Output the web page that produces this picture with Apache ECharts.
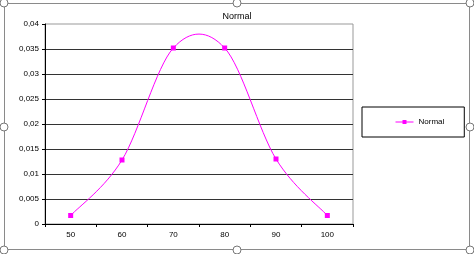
<!DOCTYPE html>
<html>
<head>
<meta charset="utf-8">
<script src="https://cdn.jsdelivr.net/npm/echarts@6/dist/echarts.min.js"></script>
<style>
  html, body { margin: 0; padding: 0; background: #fff; }
  #chart1 { width: 474px; height: 254px; }
</style>
</head>
<body>
<div id="chart1"></div>
<script>
var categories = ['50', '60', '70', '80', '90', '100'];
var normalValues = [0.0017, 0.0128, 0.0352, 0.0352, 0.013, 0.0017];

var dom = document.getElementById('chart1');
var myChart = echarts.init(dom, null, { renderer: 'canvas' });

var font = '"Liberation Sans", Arial, sans-serif';

// excel selection handles round the chart frame
var handles = [[4, 3], [237, 3], [470, 3], [4, 127], [470, 127], [4, 250], [237, 250], [470, 250]];
var graphics = [{
  type: 'rect', z: -1,
  shape: { x: 4.5, y: 3.5, width: 465, height: 246 },
  style: { fill: '#fff', stroke: '#8a8a8a', lineWidth: 1 }
}];
handles.forEach(function (h) {
  graphics.push({
    type: 'circle', z: 100,
    shape: { cx: h[0], cy: h[1], r: 4 },
    style: { fill: '#fff', stroke: '#777', lineWidth: 1 }
  });
});

// excel-like smoothed line (catmull-rom -> bezier), points from the axes
function renderCurve(params, api) {
  if (params.dataIndex !== 0) return;
  var pts = normalValues.map(function (v, i) { return api.coord([i, v]); });
  var d = 'M' + pts[0][0] + ' ' + pts[0][1];
  for (var i = 0; i < pts.length - 1; i++) {
    var p0 = pts[Math.max(i - 1, 0)], p1 = pts[i], p2 = pts[i + 1], p3 = pts[Math.min(i + 2, pts.length - 1)];
    var c1 = [p1[0] + (p2[0] - p0[0]) / 6, p1[1] + (p2[1] - p0[1]) / 6];
    var c2 = [p2[0] - (p3[0] - p1[0]) / 6, p2[1] - (p3[1] - p1[1]) / 6];
    d += ' C' + c1[0] + ' ' + c1[1] + ' ' + c2[0] + ' ' + c2[1] + ' ' + p2[0] + ' ' + p2[1];
  }
  return {
    type: 'path',
    shape: { pathData: d },
    style: { fill: null, stroke: '#FF00FF', lineWidth: 1 }
  };
}

var option = {
  backgroundColor: '#fff',
  color: ['#FF00FF'],
  textStyle: { fontFamily: font },
  title: {
    text: 'Normal',
    left: 'center',
    top: 7,
    textStyle: { fontSize: 9, fontWeight: 'normal', color: '#000', fontFamily: font }
  },
  graphic: graphics,
  legend: {
    left: 362,
    top: 107,
    itemWidth: 18,
    itemHeight: 5,
    itemGap: 4,
    padding: [11, 20, 11, 33],
    borderColor: '#000',
    borderWidth: 1,
    textStyle: { fontSize: 8, color: '#000', fontFamily: font },
    data: [{ name: 'Normal', lineStyle: { color: '#FF00FF', width: 1, opacity: 1 } }]
  },
  grid: {
    left: 45,
    right: 121,
    top: 24,
    bottom: 30,
    show: true,
    borderColor: '#999',
    borderWidth: 1,
    backgroundColor: '#fff'
  },
  xAxis: {
    type: 'category',
    data: categories,
    boundaryGap: true,
    axisLine: { lineStyle: { color: '#000', width: 1 } },
    axisTick: { show: true, length: 3, lineStyle: { color: '#000' } },
    axisLabel: { fontSize: 8, color: '#000', margin: 7 }
  },
  yAxis: {
    type: 'value',
    min: 0,
    max: 0.04,
    interval: 0.005,
    axisLine: { show: true, lineStyle: { color: '#000', width: 1 } },
    axisTick: { show: true, length: 3, lineStyle: { color: '#000' } },
    axisLabel: {
      fontSize: 8,
      color: '#000',
      margin: 6,
      formatter: function (v) { return String(+v.toFixed(3)).replace('.', ','); }
    },
    splitLine: { show: true, showMaxLine: false, lineStyle: { color: '#333', width: 1 } }
  },
  series: [{
    name: 'Normal',
    type: 'line',
    data: normalValues,
    symbol: 'rect',
    symbolSize: 5,
    lineStyle: { width: 0, opacity: 0 },
    itemStyle: { color: '#FF00FF' },
    z: 3
  }, {
    name: 'Normal',
    type: 'custom',
    renderItem: renderCurve,
    data: normalValues.map(function (v, i) { return [i, v]; }),
    encode: { x: 0, y: 1 },
    silent: true,
    z: 2
  }]
};

myChart.setOption(option);
window.addEventListener('resize', myChart.resize);
</script>
</body>
</html>
